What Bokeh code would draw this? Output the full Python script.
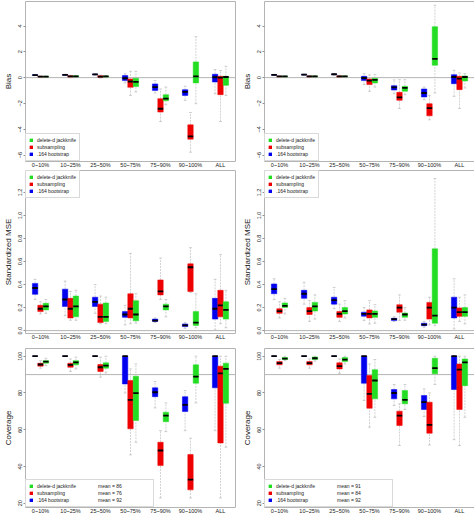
from bokeh.plotting import figure
from bokeh.models import (ColumnDataSource, FactorRange, Range1d, Span, Legend,
                          LegendItem, FixedTicker, NumeralTickFormatter)
from bokeh.transform import dodge
from bokeh.layouts import column, row
from bokeh.embed import file_html
from bokeh.resources import INLINE

GROUPS = ["0~10%", "10~25%", "25~50%", "50~75%", "75~90%", "90~100%", "ALL"]
METHODS = ["delete-d jackknife", "subsampling", ".164 bootstrap"]

# five-number summaries per group: (lower whisker, Q1, median, Q3, upper whisker)
bias_a_boot = [(0.16, 0.18, 0.20, 0.22, 0.25), (0.17, 0.19, 0.22, 0.24, 0.27), (0.19, 0.22, 0.25, 0.27, 0.30),
               (-0.41, -0.23, -0.05, 0.16, 0.30), (-1.19, -0.99, -0.74, -0.49, -0.23),
               (-1.76, -1.38, -1.11, -0.93, -0.67), (-1.25, -0.34, 0.03, 0.26, 0.62)]
bias_a_sub = [(0.03, 0.06, 0.08, 0.10, 0.13), (0.00, 0.05, 0.09, 0.14, 0.18), (-0.03, 0.03, 0.08, 0.15, 0.20),
              (-1.38, -0.75, -0.30, -0.10, 0.49), (-3.40, -2.67, -2.41, -1.63, -0.88),
              (-5.78, -4.77, -4.56, -3.66, -2.70), (-3.40, -1.32, 0.00, 0.10, 0.55)]
bias_a_jack = [(0.04, 0.06, 0.08, 0.10, 0.12), (0.02, 0.06, 0.10, 0.14, 0.17), (0.00, 0.05, 0.09, 0.13, 0.17),
               (-1.11, -0.68, -0.33, -0.05, 0.49), (-2.10, -1.79, -1.63, -1.32, -0.73),
               (-2.02, -0.41, 0.10, 1.22, 3.17), (-1.38, -0.60, 0.05, 0.10, 0.88)]

bias_b_boot = [(0.17, 0.19, 0.21, 0.23, 0.26), (0.18, 0.20, 0.23, 0.25, 0.28), (0.20, 0.23, 0.26, 0.28, 0.31),
               (-0.54, -0.23, -0.03, 0.10, 0.31), (-1.25, -0.96, -0.75, -0.62, -0.18),
               (-1.71, -1.50, -1.19, -0.88, -0.73), (-1.45, -0.47, 0.05, 0.23, 0.57)]
bias_b_sub = [(0.04, 0.07, 0.09, 0.11, 0.13), (0.03, 0.06, 0.09, 0.12, 0.15), (0.02, 0.05, 0.09, 0.13, 0.17),
              (-1.06, -0.54, -0.23, -0.10, 0.21), (-2.39, -1.76, -1.53, -1.14, -0.16),
              (-3.27, -2.96, -2.36, -2.02, -1.38), (-2.39, -0.93, -0.08, 0.10, 0.36)]
bias_b_jack = [(0.05, 0.07, 0.09, 0.11, 0.12), (0.04, 0.07, 0.10, 0.13, 0.15), (0.03, 0.07, 0.10, 0.13, 0.16),
               (-0.73, -0.41, -0.18, -0.05, 0.23), (-1.32, -1.06, -0.80, -0.67, -0.16),
               (-1.19, 0.96, 1.45, 3.95, 5.60), (-0.80, -0.26, 0.05, 0.13, 0.31)]

mse_a_boot = [(0.27, 0.315, 0.37, 0.41, 0.445), (0.13, 0.21, 0.27, 0.36, 0.43), (0.15, 0.21, 0.25, 0.29, 0.40),
              (0.05, 0.115, 0.14, 0.165, 0.22), (0.07, 0.08, 0.087, 0.10, 0.11),
              (0.02, 0.035, 0.045, 0.058, 0.07), (0.005, 0.10, 0.19, 0.28, 0.445)]
mse_a_sub = [(0.145, 0.165, 0.19, 0.22, 0.25), (0.09, 0.11, 0.19, 0.28, 0.34), (0.06, 0.07, 0.12, 0.23, 0.30),
             (0.06, 0.11, 0.19, 0.32, 0.67), (0.27, 0.31, 0.34, 0.44, 0.63),
             (0.33, 0.34, 0.55, 0.58, 0.72), (0.06, 0.12, 0.22, 0.35, 0.66)]
mse_a_jack = [(0.15, 0.18, 0.21, 0.237, 0.27), (0.09, 0.12, 0.21, 0.30, 0.35), (0.06, 0.08, 0.12, 0.24, 0.29),
              (0.065, 0.085, 0.14, 0.26, 0.32), (0.12, 0.18, 0.21, 0.23, 0.27),
              (0.025, 0.045, 0.07, 0.165, 0.32), (0.025, 0.10, 0.18, 0.25, 0.35)]

mse_b_boot = [(0.27, 0.32, 0.36, 0.405, 0.45), (0.23, 0.28, 0.32, 0.35, 0.42), (0.19, 0.23, 0.265, 0.29, 0.375),
              (0.087, 0.125, 0.145, 0.16, 0.20), (0.08, 0.087, 0.10, 0.107, 0.12),
              (0.03, 0.043, 0.052, 0.064, 0.08), (0.015, 0.11, 0.20, 0.29, 0.45)]
mse_b_sub = [(0.11, 0.15, 0.17, 0.19, 0.25), (0.08, 0.14, 0.17, 0.20, 0.26), (0.08, 0.115, 0.145, 0.165, 0.23),
             (0.058, 0.11, 0.145, 0.18, 0.26), (0.087, 0.16, 0.20, 0.225, 0.31),
             (0.05, 0.10, 0.20, 0.245, 0.29), (0.08, 0.124, 0.16, 0.197, 0.29)]
mse_b_jack = [(0.145, 0.20, 0.215, 0.24, 0.28), (0.10, 0.17, 0.21, 0.245, 0.31), (0.11, 0.145, 0.17, 0.20, 0.26),
              (0.064, 0.115, 0.145, 0.17, 0.225), (0.09, 0.116, 0.14, 0.153, 0.20),
              (0.043, 0.064, 0.13, 0.71, 1.32), (0.058, 0.124, 0.16, 0.20, 0.31)]

cov_a_boot = [(100, 100, 100, 100, 100), (100, 100, 100, 100, 100), (100, 100, 100, 100, 100),
              (80.0, 84.9, 100, 100, 100), (71.9, 78.0, 80.4, 82.8, 86.2),
              (59.5, 69.9, 73.5, 78.0, 81.3), (59.5, 82.8, 100, 100, 100)]
cov_a_sub = [(93.5, 94.6, 95.5, 96.2, 97.6), (91.7, 94.0, 95.3, 96.2, 98.5), (88.6, 91.7, 94.0, 95.5, 99.5),
             (46.3, 60.5, 76.2, 86.8, 93.1), (22.9, 40.5, 48.7, 53.2, 59.5),
             (22.9, 27.3, 32.9, 46.5, 55.4), (22.9, 52.8, 90.7, 94.6, 100)]
cov_a_jack = [(94.9, 96.2, 97.1, 97.6, 98.9), (93.1, 95.3, 96.7, 97.6, 99.5), (90.9, 93.5, 94.9, 96.4, 100),
              (53.2, 65.0, 79.9, 89.1, 95.8), (59.0, 64.4, 67.7, 69.5, 74.6),
              (74.6, 85.3, 88.9, 95.3, 100), (50.5, 74.4, 93.1, 96.2, 100)]

cov_b_boot = [(100, 100, 100, 100, 100), (100, 100, 100, 100, 100), (100, 100, 100, 100, 100),
              (75.9, 85.3, 100, 100, 100), (73.2, 76.8, 80.0, 81.9, 84.6),
              (67.2, 71.0, 75.0, 78.6, 82.2), (54.6, 81.9, 100, 100, 100)]
cov_b_sub = [(93.5, 95.3, 96.2, 97.1, 98.2), (93.5, 95.3, 96.2, 97.1, 98.5), (90.7, 93.1, 94.6, 96.4, 98.5),
             (61.4, 71.7, 79.5, 89.5, 95.8), (51.4, 62.3, 67.7, 70.1, 74.1),
             (51.7, 58.1, 62.6, 75.0, 80.0), (51.4, 71.0, 92.7, 95.8, 100)]
cov_b_jack = [(97.6, 98.2, 98.7, 99.3, 100), (97.3, 98.2, 98.9, 99.6, 100), (95.8, 97.1, 98.2, 99.3, 100),
              (66.8, 76.8, 86.8, 92.7, 98.2), (71.0, 74.1, 76.2, 81.3, 84.6),
              (84.6, 90.4, 93.5, 98.9, 100), (66.8, 84.0, 96.7, 98.5, 100)]

cov_a_means = ["mean = 86", "mean = 76", "mean = 92"]
cov_b_means = ["mean = 91", "mean = 84", "mean = 92"]

BLUE, RED, GREEN = "#0000ee", "#ee0000", "#22dd22"
WHISK = "#c0c0c0"
FRAME = "#b4b4b4"
FONT = "Liberation Sans"
BOX_W = 0.18
CAP_W = 0.09
OFFSETS = {"boot": -0.18, "sub": 0.0, "jack": 0.18}


def draw_boxes(p, stats, offset, color):
    lo, q1, med, q3, hi = (list(c) for c in zip(*stats))
    src = ColumnDataSource(dict(g=GROUPS, lo=lo, q1=q1, med=med, q3=q3, hi=hi))
    xc = dodge("g", offset, range=p.x_range)
    cl = dodge("g", offset - CAP_W / 2, range=p.x_range)
    cr = dodge("g", offset + CAP_W / 2, range=p.x_range)
    ml = dodge("g", offset - BOX_W / 2, range=p.x_range)
    mr = dodge("g", offset + BOX_W / 2, range=p.x_range)
    p.segment(x0=xc, y0="q3", x1=xc, y1="hi", source=src, line_color=WHISK, line_width=0.7, line_dash="2 1")
    p.segment(x0=xc, y0="lo", x1=xc, y1="q1", source=src, line_color=WHISK, line_width=0.7, line_dash="2 1")
    p.segment(x0=cl, y0="hi", x1=cr, y1="hi", source=src, line_color=WHISK, line_width=0.8)
    p.segment(x0=cl, y0="lo", x1=cr, y1="lo", source=src, line_color=WHISK, line_width=0.8)
    box = p.vbar(x=xc, width=BOX_W, bottom="q1", top="q3", source=src,
                 fill_color=color, line_color=color, line_width=0.5)
    p.segment(x0=ml, y0="med", x1=mr, y1="med", source=src, line_color="black", line_width=1.8)
    return box


def panel(boot, sub, jack, yr, ticks, ylabel, ref, fh, top, left, right,
          legend_loc, fmt=None, means=None):
    p = figure(x_range=FactorRange(*GROUPS), y_range=Range1d(*yr),
               frame_width=210, frame_height=fh,
               min_border_top=top, min_border_bottom=0,
               min_border_left=left, min_border_right=right,
               output_backend="svg", toolbar_location=None)
    p.xgrid.visible = False
    p.ygrid.visible = False
    p.outline_line_color = FRAME
    p.outline_line_width = 1
    p.background_fill_color = "white"
    p.border_fill_color = "white"

    p.add_layout(Span(location=ref, dimension="width", line_color=FRAME, line_width=1, level="underlay"))

    b_box = draw_boxes(p, boot, OFFSETS["boot"], BLUE)
    s_box = draw_boxes(p, sub, OFFSETS["sub"], RED)
    j_box = draw_boxes(p, jack, OFFSETS["jack"], GREEN)

    for ax in (p.xaxis[0], p.yaxis[0]):
        ax.axis_line_color = None
        ax.major_tick_line_color = "#909090"
        ax.major_tick_in = 0
        ax.minor_tick_line_color = None
        ax.major_label_text_font = FONT
        ax.major_label_text_font_size = "5.5px"
        ax.major_label_text_color = "#222222"
    p.xaxis.major_tick_out = 0
    p.xaxis.major_label_standoff = 0
    p.yaxis.major_tick_out = 2
    p.yaxis.major_label_standoff = 1
    p.yaxis.ticker = FixedTicker(ticks=ticks)
    p.yaxis.major_label_orientation = "vertical"
    if fmt:
        p.yaxis.formatter = NumeralTickFormatter(format=fmt)
    p.yaxis.axis_label = ylabel
    p.yaxis.axis_label_text_font = FONT
    p.yaxis.axis_label_text_font_style = "normal"
    p.yaxis.axis_label_text_font_size = "8px"
    p.yaxis.axis_label_text_color = "#222222"
    p.yaxis.axis_label_standoff = 3

    items = [LegendItem(label=METHODS[0], renderers=[j_box]),
             LegendItem(label=METHODS[1], renderers=[s_box]),
             LegendItem(label=METHODS[2], renderers=[b_box])]
    legend = Legend(items=items, location=legend_loc, margin=0, padding=3, spacing=1,
                    label_height=5, glyph_height=4, glyph_width=4, label_standoff=4,
                    label_text_font=FONT, label_text_font_size="5px",
                    label_text_color="#222222",
                    border_line_color=FRAME, border_line_width=1,
                    background_fill_alpha=1.0)
    if means:
        # second legend column holding the per-method means, with blank keys
        blank = p.vbar(x=[], top=[], width=BOX_W, fill_alpha=0, line_alpha=0)
        for txt in means:
            legend.items.append(LegendItem(label=txt, renderers=[blank]))
        legend.nrows = 3
        legend.ncols = 2
        legend.label_width = 52
    p.add_layout(legend)
    return p


p1 = panel(bias_a_boot, bias_a_sub, bias_a_jack, (-6.5, 5.9), [-6, -4, -2, 0, 2, 4], "Bias", 0,
           160, 1, 23, 4, "bottom_left")
p2 = panel(bias_b_boot, bias_b_sub, bias_b_jack, (-6.5, 5.9), [-6, -4, -2, 0, 2, 4], "Bias", 0,
           160, 1, 25, 2, "bottom_left")
p3 = panel(mse_a_boot, mse_a_sub, mse_a_jack, (-0.025, 1.39), [0, 0.2, 0.4, 0.6, 0.8, 1.0, 1.2],
           "Standardized MSE", 0, 163, 0, 23, 4, "top_left", fmt="0.0")
p4 = panel(mse_b_boot, mse_b_sub, mse_b_jack, (-0.025, 1.39), [0, 0.2, 0.4, 0.6, 0.8, 1.0, 1.2],
           "Standardized MSE", 0, 163, 0, 25, 2, "top_left", fmt="0.0")
p5 = panel(cov_a_boot, cov_a_sub, cov_a_jack, (17.7, 104.2), [20, 40, 60, 80, 100], "Coverage", 90,
           159, 6, 23, 4, "bottom_left", means=cov_a_means)
p6 = panel(cov_b_boot, cov_b_sub, cov_b_jack, (17.7, 104.2), [20, 40, 60, 80, 100], "Coverage", 90,
           159, 6, 25, 2, "bottom_left", means=cov_b_means)

layout = column(row(p1, p2), row(p3, p4), row(p5, p6))

with open("out.html", "w") as f:
    f.write(file_html(layout, INLINE))
